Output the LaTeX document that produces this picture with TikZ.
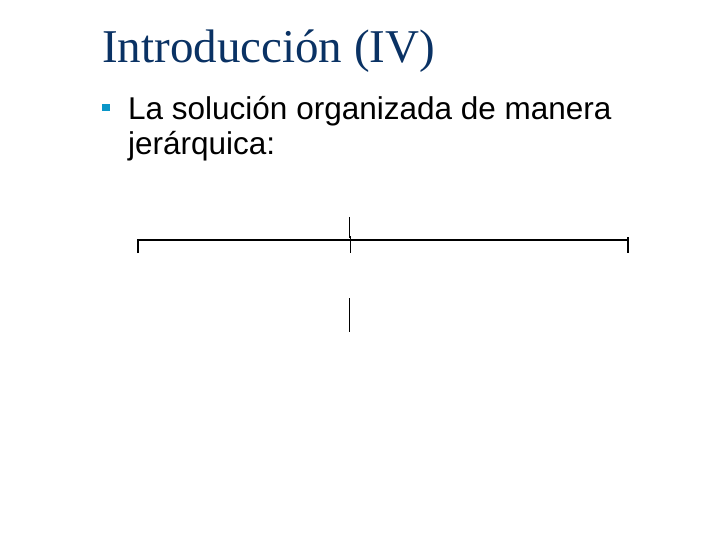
\documentclass[tikz,border=0pt]{standalone}
\usepackage{fontspec}
\setmainfont{Liberation Serif}
\newfontfamily\bodyfont{Liberation Sans}
\definecolor{titleblue}{RGB}{10,50,100}
\definecolor{bulletblue}{RGB}{10,150,200}
\begin{document}
\begin{tikzpicture}[x=1pt,y=-1pt,
  titlestyle/.style={anchor=base west,inner sep=0pt,text=titleblue,font=\fontsize{47}{52}\selectfont},
  bodystyle/.style={anchor=base west,inner sep=0pt,text=black,font=\bodyfont\fontsize{31.5}{35}\selectfont},
  conn/.style={draw=black,line width=1.3pt}]
\useasboundingbox (0,0) rectangle (720,540);
\node[titlestyle] (title) at (102,63) {Introducción (IV)};
\fill[bulletblue] (102,104) rectangle (109.5,111.5);
\node[bodystyle] (l1) at (128,120) {La solución organizada de manera};
\node[bodystyle] (l2) at (128,155) {jerárquica:};
% org chart connectors
\coordinate (top) at (349.5,217);
\coordinate (jog) at (349.5,237);
\coordinate (hub) at (350.5,240);
\coordinate (left) at (138,240);
\coordinate (right) at (628,240);
\coordinate (leftend) at (138,253);
\coordinate (midend) at (350.5,253);
\coordinate (righttop) at (628,237);
\coordinate (rightend) at (628,253);
\coordinate (subtop) at (349.5,298);
\coordinate (subend) at (349.5,332);
\draw[conn] (top) -- (jog) -- (hub |- jog) -- (hub);
\draw[conn] (leftend) -- (left) -- (right);
\draw[conn] (hub) -- (midend);
\draw[conn] (righttop) -- (rightend);
\draw[conn] (subtop) -- (subend);
\end{tikzpicture}
\end{document}
